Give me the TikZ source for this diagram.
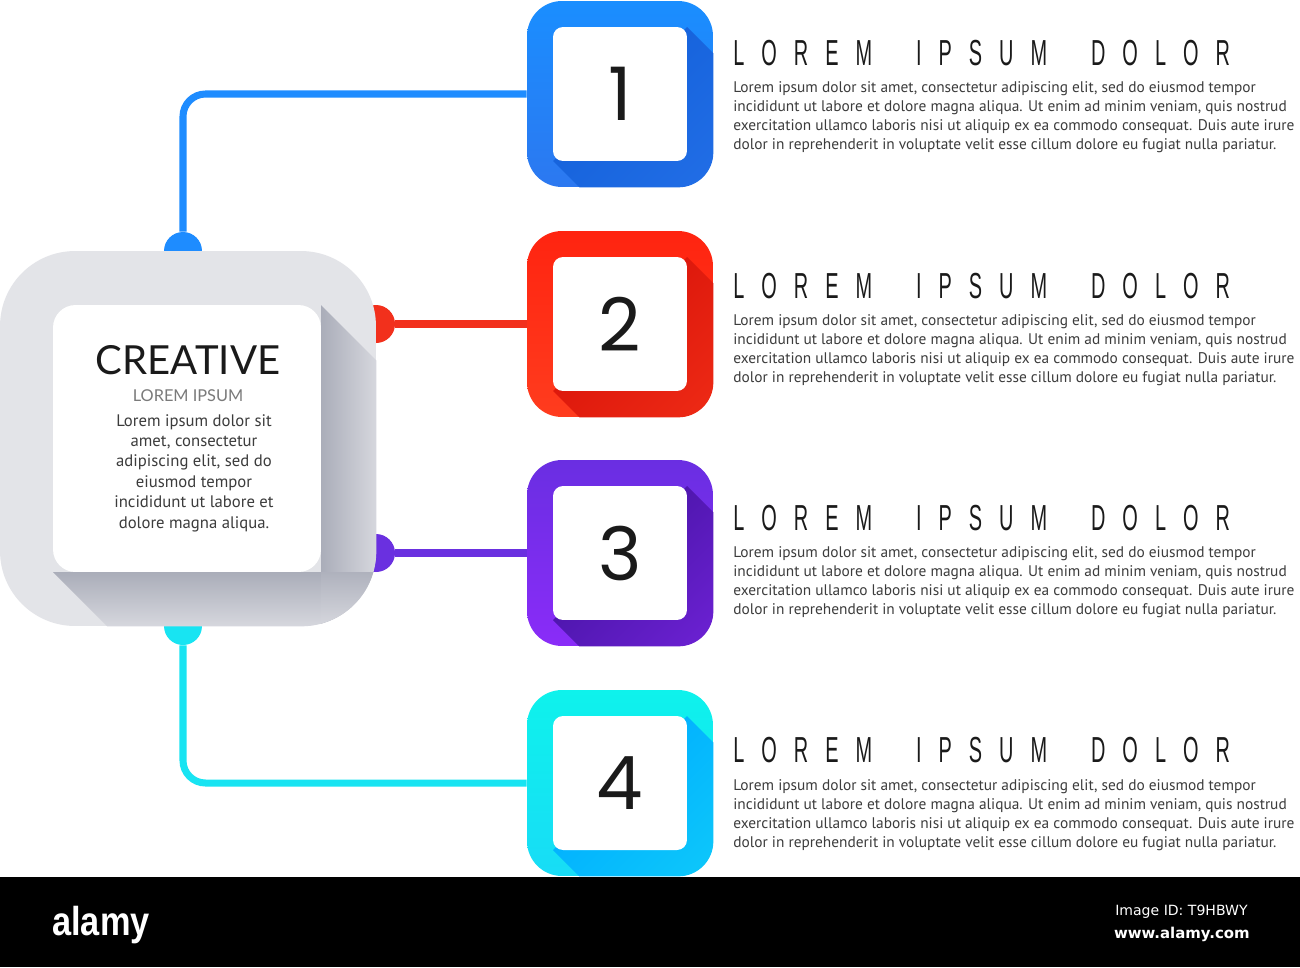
\documentclass[tikz,border=0pt]{standalone}
\usepackage{fontspec}
\setmainfont{PT Sans}
\newfontfamily\numfont{Poppins}
\newfontfamily\titlefont{Lato}
\newfontfamily\headfont[FakeStretch=0.55,LetterSpace=47]{Liberation Sans}
\newfontfamily\logofont[FakeStretch=0.85]{Liberation Sans}
\newfontfamily\barfont{DejaVu Sans}
\usetikzlibrary{positioning,calc}
\definecolor{Ink}{HTML}{1A1A1A}
\definecolor{Body}{HTML}{3C3C3C}
\definecolor{Sub}{HTML}{7A7A7A}
\definecolor{HubGrey}{HTML}{E3E4E8}
\definecolor{HubShadeDark}{HTML}{AAADB9}
\definecolor{HubShadeLight}{HTML}{D9DAE0}
\definecolor{OneTop}{HTML}{1A8EFF}
\definecolor{OneBot}{HTML}{2C78F0}
\definecolor{OneShade}{HTML}{1461DA}
\definecolor{OneLine}{HTML}{1E8CFF}
\definecolor{TwoTop}{HTML}{FF2410}
\definecolor{TwoBot}{HTML}{FF3C1E}
\definecolor{TwoShade}{HTML}{D9140A}
\definecolor{TwoLine}{HTML}{F2301C}
\definecolor{ThreeTop}{HTML}{6A2EE2}
\definecolor{ThreeBot}{HTML}{8A2CF8}
\definecolor{ThreeShade}{HTML}{4814A6}
\definecolor{ThreeLine}{HTML}{6A30E0}
\definecolor{FourTop}{HTML}{0EF2EC}
\definecolor{FourBot}{HTML}{18DCF6}
\definecolor{FourShade}{HTML}{00AEFF}
\definecolor{FourLine}{HTML}{18E4F2}
\newcommand{\wordgap}{\hspace{25pt}}

\begin{document}
\begin{tikzpicture}[x=0.02cm,y=-0.02cm,
  tile/.style={rectangle,minimum size=3.72cm,inner sep=0pt,rounded corners=0.7cm},
  face/.style={rectangle,minimum size=2.68cm,inner sep=0pt,rounded corners=0.2cm,fill=white,font=\numfont\fontsize{42}{42}\selectfont,text=Ink},
  knob/.style={circle,minimum size=0.76cm,inner sep=0pt},
  link/.style={line width=4pt,rounded corners=0.45cm},
  headline/.style={anchor=base west,inner sep=0pt,font=\headfont\fontsize{20.6}{20.6}\selectfont,text=Ink},
  blurb/.style={anchor=north west,inner sep=0pt,align=left,font=\fontsize{8.75}{10.77}\selectfont,text=Body}
]
\useasboundingbox (0,0) rectangle (1300,967);
\fill[white] (0,0) rectangle (1300,967);

% tiles
\node[tile,top color=OneTop,bottom color=OneBot] (s1) at (620,94) {};
\begin{scope}
\clip[rounded corners=0.7cm] (s1.south west) rectangle (s1.north east);
\shade[top color=OneShade,bottom color=OneBot,shading angle=45] ($(s1)+(67,-67)$) -- ++(160,160) -- ($(s1)+(93,227)$) -- ($(s1)+(-67,67)$) -- cycle;
\end{scope}
\node[face] (f1) at (s1) {1};

\node[tile,top color=TwoTop,bottom color=TwoBot] (s2) at (620,324) {};
\begin{scope}
\clip[rounded corners=0.7cm] (s2.south west) rectangle (s2.north east);
\shade[top color=TwoShade,bottom color=TwoBot,shading angle=45] ($(s2)+(67,-67)$) -- ++(160,160) -- ($(s2)+(93,227)$) -- ($(s2)+(-67,67)$) -- cycle;
\end{scope}
\node[face] (f2) at (s2) {2};

\node[tile,top color=ThreeTop,bottom color=ThreeBot] (s3) at (620,553) {};
\begin{scope}
\clip[rounded corners=0.7cm] (s3.south west) rectangle (s3.north east);
\shade[top color=ThreeShade,bottom color=ThreeBot,shading angle=45] ($(s3)+(67,-67)$) -- ++(160,160) -- ($(s3)+(93,227)$) -- ($(s3)+(-67,67)$) -- cycle;
\end{scope}
\node[face] (f3) at (s3) {3};

\node[tile,top color=FourTop,bottom color=FourBot] (s4) at (620,783) {};
\begin{scope}
\clip[rounded corners=0.7cm] (s4.south west) rectangle (s4.north east);
\shade[top color=FourShade,bottom color=FourBot,shading angle=45] ($(s4)+(67,-67)$) -- ++(160,160) -- ($(s4)+(93,227)$) -- ($(s4)+(-67,67)$) -- cycle;
\end{scope}
\node[face] (f4) at (s4) {4};

% knobs and links
\node[knob,fill=OneLine] (k1) at (183,251) {};
\node[knob,fill=TwoLine] (k2) at (376,324) {};
\node[knob,fill=ThreeLine] (k3) at (376,553) {};
\node[knob,fill=FourLine] (k4) at (183,626) {};
\draw[link,OneLine] (k1) |- (s1);
\draw[link,TwoLine] (k2) -- (s2);
\draw[link,ThreeLine] (k3) -- (s3);
\draw[link,FourLine] (k4) |- (s4);

% hub and card
\node[rectangle,minimum width=7.52cm,minimum height=7.5cm,inner sep=0pt,rounded corners=1.5cm,fill=HubGrey] (hub) at (188,438.5) {};
\begin{scope}
\clip[rounded corners=1.5cm] (hub.south west) rectangle (hub.north east);
\clip (321,305) -- (621,605) -- (353,872) -- (53,572) -- cycle;
\shade[left color=HubShadeDark,right color=HubShadeLight] (321,300) rectangle (380,640);
\shade[top color=HubShadeDark,bottom color=HubShadeLight] (50,572) rectangle (321,630);
\shade[top color=HubShadeDark!90!HubShadeLight,bottom color=HubShadeLight] (321,572) rectangle (380,630);
\end{scope}
\node[rectangle,minimum width=5.36cm,minimum height=5.34cm,inner sep=0pt,rounded corners=0.45cm,fill=white] (card) at (187,438.5) {};
\node[font=\titlefont\fontsize{22.8}{22.8}\selectfont,text=Ink,inner sep=0pt] (title) at (188,360) {CREATIVE};
\node[font=\titlefont\fontsize{9.3}{9.3}\selectfont,text=Sub,inner sep=0pt] (subtitle) at (188,396) {LOREM IPSUM};
\node[anchor=north,align=center,inner sep=0pt,font=\fontsize{9.5}{11.6}\selectfont,text=Body] (cardtext) at (194,414) {Lorem ipsum dolor sit\\amet, consectetur\\adipiscing elit, sed do\\eiusmod tempor\\incididunt ut labore et\\dolore magna aliqua.};

% headings and texts
\node[headline] (h1) at (733,65) {LOREM\wordgap IPSUM\wordgap DOLOR};
\node[blurb] (t1) at (733,81) {Lorem ipsum dolor sit amet, consectetur adipiscing elit, sed do eiusmod tempor\\incididunt ut labore et dolore magna aliqua. Ut enim ad minim veniam, quis nostrud\\exercitation ullamco laboris nisi ut aliquip ex ea commodo consequat. Duis aute irure\\dolor in reprehenderit in voluptate velit esse cillum dolore eu fugiat nulla pariatur.};
\node[headline] (h2) at (733,298) {LOREM\wordgap IPSUM\wordgap DOLOR};
\node[blurb] (t2) at (733,314) {Lorem ipsum dolor sit amet, consectetur adipiscing elit, sed do eiusmod tempor\\incididunt ut labore et dolore magna aliqua. Ut enim ad minim veniam, quis nostrud\\exercitation ullamco laboris nisi ut aliquip ex ea commodo consequat. Duis aute irure\\dolor in reprehenderit in voluptate velit esse cillum dolore eu fugiat nulla pariatur.};
\node[headline] (h3) at (733,530) {LOREM\wordgap IPSUM\wordgap DOLOR};
\node[blurb] (t3) at (733,546) {Lorem ipsum dolor sit amet, consectetur adipiscing elit, sed do eiusmod tempor\\incididunt ut labore et dolore magna aliqua. Ut enim ad minim veniam, quis nostrud\\exercitation ullamco laboris nisi ut aliquip ex ea commodo consequat. Duis aute irure\\dolor in reprehenderit in voluptate velit esse cillum dolore eu fugiat nulla pariatur.};
\node[headline] (h4) at (733,762) {LOREM\wordgap IPSUM\wordgap DOLOR};
\node[blurb] (t4) at (733,779) {Lorem ipsum dolor sit amet, consectetur adipiscing elit, sed do eiusmod tempor\\incididunt ut labore et dolore magna aliqua. Ut enim ad minim veniam, quis nostrud\\exercitation ullamco laboris nisi ut aliquip ex ea commodo consequat. Duis aute irure\\dolor in reprehenderit in voluptate velit esse cillum dolore eu fugiat nulla pariatur.};

% bottom bar
\fill[black] (0,877) rectangle (1300,967);
\node[anchor=base west,inner sep=0pt,text=white,font=\logofont\bfseries\fontsize{23}{23}\selectfont] (logo) at (52,935) {alamy};
\node[anchor=base east,inner sep=0pt,text=white,font=\barfont\fontsize{8}{8}\selectfont] (imgid) at (1248,915) {Image ID: T9HBWY};
\node[anchor=base east,inner sep=0pt,text=white,font=\barfont\bfseries\fontsize{8.5}{8.5}\selectfont] (site) at (1250,938) {www.alamy.com};
\end{tikzpicture}
\end{document}
